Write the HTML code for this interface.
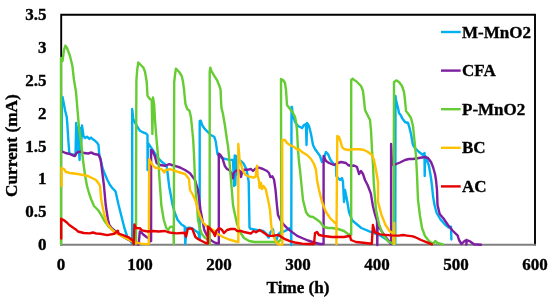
<!DOCTYPE html>
<html><head><meta charset="utf-8"><style>
html,body{margin:0;padding:0;background:#fff;width:550px;height:300px;overflow:hidden}
svg{display:block}
text{font-family:"Liberation Serif","Times New Roman",serif;font-weight:bold;fill:#000;stroke:#000;stroke-width:0.35px}
</style></head><body>
<svg width="550" height="300" viewBox="0 0 550 300">
<rect width="550" height="300" fill="#fff"/>
<g fill="none" stroke-linejoin="round" stroke-linecap="round" stroke-width="2.4">
<path d="M61.2,245.6 V14.8 H535 V245.6" stroke="#000" stroke-width="1.9" stroke-linecap="butt" stroke-linejoin="miter"/>
<line x1="61" y1="244.8" x2="535" y2="244.8" stroke="#808080" stroke-width="1.9"/>
<polyline points="61.8,150 61.8,97 62.5,97 63.5,102 65,110 66.7,116.7 67.5,126.7 68.3,140 69.2,151.7 70,154 75.5,155 76.2,123 77,150 78,127 79,152 79.6,160 80,128 81,150 82,125.5 83.5,136 85,138 87,136.7 89.5,139 91,137.5 92.5,139 94.7,140.5 97,142.7 98.5,145 99.2,154 100.7,160 102.5,168 104,172 107.4,180 110,185 112.3,188 115.5,191.3 118.6,205 121.5,216.5 124.4,228 127.2,236.5 130.8,240.8 132.2,244 132.2,109 133.2,119 136.2,125 140,130.8 143.3,132.5 145.8,133.3 147.5,135 147.6,170 148.3,143.3 151.7,148.3 155,153.3 158.3,158.3 161.7,161.7 165,164.2 166.7,166.7 167.7,174 169.2,186.7 170.8,195 172.4,204 174.5,212 177.7,220 181.5,224.5 184.7,226.5 185.3,244 186.5,228 189.7,227.7 192.3,228.4 194.2,230 196.7,231.5 198.6,233.4 199.7,240 199.7,121 200.8,120.8 202.5,125.8 205,129.2 208.3,132.5 210.8,135 214.2,136.7 215.8,141.7 216.7,148.3 217.5,154.2 219.2,156.7 223.3,158.5 228.3,159.7 233,160 234,186 234.7,155.5 235.3,185 236,156 236.5,175 237.7,160 241,161 243.7,163.7 246.3,169 247.7,175.7 248.7,182 249.5,227.4 250.5,228.7 257.2,230 263.3,231 265.3,232.6 268.6,237.5 270.8,231.5 273,229.3 274,237 276.3,240.3 278.5,234.2 280.7,232 284,231.5 286.2,230.4 289.5,228.2 291,229.3 291.3,245 291.5,107 292,107 292.5,114 295,122 298,126 302,128 304,125 306,124 306.5,145 307,123 309,126 311,134 313,145 315,149 320,156 322,162 324,158 326,152 328,154 330,159 332,162 334,164 336,165 336.3,176 338,178 340,180 342,178 343,182 344,202 345,190 347,200 349,212 352,220 355,222.8 361.3,228 371.8,232.3 380.2,235.4 386.5,239.6 391.8,243.8 395.3,244 395.5,96 396,100 398,108 399,113 401,115.5 402,118 405,122 408,123 409,126 411,134 412,140 413,145 415,148 419,152 423,155 424.5,153 424.7,176 425.2,156 427,160 429,166 430,172 431,178 432,186 433,196 434.5,205 436.7,213 440.5,219.5 445,224.5 448.7,227.5 451,226.7 451.4,239.5" stroke="#00B0F0"/>
<polyline points="61.8,152 62.5,151.7 65.5,153 70,154 73,155.5 75,156 76,153.7 78,152 80.5,151.7 84,153 88,153.5 91.5,152.5 93,153.5 95.5,154.3 98.5,154.7 100,158 100.7,160 102,170 104,186 105.7,205 107.9,219.3 109.3,225 111.5,228 115.8,231.5 121.5,235.8 128.7,240 133.7,242.3 136,244 138.7,244.5 139.8,231.5 140.9,232 143,234.2 146.4,237 149,238.6 150.2,241.4 151.1,241 151.1,150 152.5,150.8 155,156.7 156.7,163.3 160,165 165,165.8 169.2,164.2 171.7,165 175,165.8 180,167.5 185,170 190,173.3 195,180 198,190 200.5,210 202.4,220 204.3,230 206.8,235.3 209.4,238.5 212,241 215.7,243 218.8,243.5 218.8,153.7 220.3,155 222.3,157.7 223.7,162.3 225,166.3 227,169 229.7,170.3 231,173 233,178.3 233.7,173 235.7,171 238.3,169.7 240.3,171.7 241,177 242.3,171.7 244.3,169.7 248.3,169.7 251,169 253,171 255,169 259,167.7 263,169 267,171 269,173 270.3,177 272.3,176.3 274,179.5 275.5,189.6 277,206 278,215 280.7,220.5 284,224.9 288.4,229.3 292.8,232.6 297.2,235.9 302,238 308,240.5 314,242.5 320,244 323.6,244 323.6,156 326,161 329,163 334,165 336,164 338,163 341,162 346,163 348,165 351,166 354,165.5 357,167 359,174 361,171 363,174 365,180 367.6,185 370.8,193.4 372.9,206 375,214.4 377,220.7 377.3,245 377.6,222 380.2,229 384.4,235.4 388.6,240.7 390.7,243.8 391.1,244 391.1,144 392,165 395,164.5 400,162.5 405,160 405,160 409,159 413,159 419,158 425,157 428,158 431,162 433,167 435,174 436,180 437,190 437.5,205 439.7,214 443.5,218.5 448,225 452.5,230.5 457.7,235.7 459,240 461.5,244 464.5,241 466.4,240 466.4,244.5 466.7,240 470.5,241.7 474,244.3 481,244.7" stroke="#7D1FA0"/>
<polyline points="61,244 61,58 62.5,61 64,50 65.4,45.6 67,48 70,56 72.4,66 74,80 76,92 77.5,110 79,128 81,142 83,160 85,175 87,186 89,193 91,199 94,206 98,210 100,212.9 104.3,220.8 108.6,226.5 114.3,231.5 120,235 125.8,238 131.5,240.8 134,243 136,244 136.2,130 136.4,80 137.2,70 138.3,62.5 140.8,65 143.3,67.5 145,71.7 146.7,81.7 147.5,95.8 150,99.2 151.7,100 152.4,134 153,97.5 154.2,105 155,120 156.7,141.7 158.3,158.3 159.2,175 160,186 161.3,205 163.8,220 166.3,228 168.2,230 170,227 173.3,226.5 173.8,244 174.2,82 175,75 175.9,68.7 179.2,72 181.9,76.4 183,81.8 184.1,90 185,100 185.5,104 187.2,109 189.5,110.7 191,117.5 192.5,132.5 193.2,140 194,155 195,180 196,195 197.3,210 198,220 200,229 201.8,234 205,237.8 208,239.7 209.7,244 209.7,72 210.3,67.6 211.4,71 214.6,76.4 217.3,80.7 219.5,86.2 220.6,90 221,100 221.5,108 223,114 225,126 227,140 228,146 229,156 231,180 233,205 234,210 237,224 240,232 244,238 249,241 254.8,242 266.4,242 273,242 277.4,242.5 279.6,240.8 281.2,239.2 281,79 283,80 285,83 286,90 287,105 290,109 293,113 295,117 296,122 297,130 298,150 299,162 300,170 301,180 303,200 304,204 306,212 308,215 310,216.5 313,217 316,219 320,222 324,227 328,228 332,228 338,229 344,231 348,234 351.2,235 351.2,80 352.7,78.7 354,80 356,81 359,84 361,86 363,91 364,100 365,110 367,114 368,116 370,120 371,130 372,150 373,165 373.9,185 376,210 379.2,225 383.4,235.4 388.6,241.7 393.6,244 394,82 396.3,80.4 399,82 402,86 404,92 405,100 406,111 408,113.5 411,118 413,126 414,136 415,146 416,156 417,175 418,200 419,208 420,216 422,228 425,236 429,241 433,244 435.2,241 437.5,243 440.5,243.7 443,244.3" stroke="#66CC33"/>
<polyline points="61.6,186 61.6,168 64,169 66,172 70,173 78,174 88,176 96,180 99,184 100,186 101,198 102.2,205 104.3,215 107.2,223.6 111.5,229.4 115.8,233 121.5,235.8 127.2,238.7 131.5,240.8 135.4,242.5 140.9,243.6 146.4,244.1 148.8,244 149.2,159.2 150.8,162 152.5,165 155,167.5 158.3,168.3 161.7,169.2 164.2,172.5 165.8,170 170,169.2 175,170.8 180,172.5 185,174 189,179 190,190 193,195 196,202 198,210 200.5,217 203,222.5 205.6,225.2 208,227 213,230 217,233.4 220,235.3 223,237 229,239.5 236,241.5 238.3,242 238.3,144 238.8,150 239.7,161 241,163.7 242.3,169 243.7,172.3 245.7,175 248.3,176.3 251,177 253.7,177.7 255.7,176.3 257,165.7 257.7,175.7 259,181 259.6,188 261,183 262,189 263.5,186 265.7,189 268,199.4 270,210 271.3,226 273,233.7 275.2,240.3 277.4,243.6 279.6,244.7 282.3,244.5 282.2,140 285,140 287,143 290,145 294,147 298,150 299,149 302,152 307,155 311,159 314,164 316,170 317,180 319,190 322,202 326,212 330,218 334,222 336.4,224 336.4,244 337.3,136 339,137 340,140 341,143 342,147 344,149 348,150 354,149.3 360,149.3 364,150 368,152 372,155 374,160 376,170 378,182 378,201.8 381.3,214.4 385.5,225 389.7,231.2 392.8,233.3 394,244 394.2,223 394.5,244" stroke="#FFC000"/>
<polyline points="61.2,238.5 61.2,218.8 63.6,220 66.5,222.2 69.3,225 73.6,228 75.8,229.4 78,231.5 83.7,233 89.4,233.4 93,232.5 96.5,233.6 100,233.8 107.2,235.1 114.3,233.7 117.9,230.8 118.6,233.7 123,235.1 128.7,237.3 133,240.8 133.7,244.4 134.4,224.4 135.8,228 140,228.3 142,230.4 147.5,231.5 153,231 158.5,231.5 165,231 167.6,232 171.4,232.8 176.5,233.4 181.5,233 184.7,232.8 186,236.6 187.8,229 190.4,228.4 192.3,229 193.5,232 195.4,237 198,239 201.8,241 205.6,243 207.8,243.5 208,226.5 210,228.4 212,231 213.8,233.4 215,236 216.3,231 218.2,229 220,228.4 222,230 224,233 227,230 231,229 235,229 237,231 241,231 245,232.3 251,233.5 253.5,231 256,232.3 259.6,230 262,231.5 265.3,233.7 268.6,235.9 273,235.9 278,234.8 280.7,236.4 285,239.2 290.6,241.4 295,242.5 302,243.6 308,244 314,244 315,233 317,232 319,235 324,236 332,237 340,237 344,237 349,236 350,236 351,240 356,242 363.4,242.8 371.8,243.8 372.9,225 375,232.3 380.2,234.4 390.7,235.4 399,235.6 403,235 407,235.6 413,236.4 417,238 421,240 427,242.4 432,244.4" stroke="#E60000"/>
</g>
<g font-size="17"><text x="46.5" y="244.5" text-anchor="end" dominant-baseline="central">0</text><text x="46.5" y="211.7" text-anchor="end" dominant-baseline="central">0.5</text><text x="46.5" y="178.9" text-anchor="end" dominant-baseline="central">1</text><text x="46.5" y="146.1" text-anchor="end" dominant-baseline="central">1.5</text><text x="46.5" y="113.3" text-anchor="end" dominant-baseline="central">2</text><text x="46.5" y="80.5" text-anchor="end" dominant-baseline="central">2.5</text><text x="46.5" y="47.7" text-anchor="end" dominant-baseline="central">3</text><text x="46.5" y="14.9" text-anchor="end" dominant-baseline="central">3.5</text></g>
<g font-size="17"><text x="61" y="270" text-anchor="middle">0</text><text x="140" y="270" text-anchor="middle">100</text><text x="219" y="270" text-anchor="middle">200</text><text x="298" y="270" text-anchor="middle">300</text><text x="377" y="270" text-anchor="middle">400</text><text x="456" y="270" text-anchor="middle">500</text><text x="535" y="270" text-anchor="middle">600</text></g>
<text x="298" y="292.7" font-size="17.1" text-anchor="middle">Time (h)</text>
<text transform="translate(17.3,145.6) rotate(-90)" font-size="17.3" text-anchor="middle">Current (mA)</text>
<g font-size="17"><line x1="441" y1="32.0" x2="460.7" y2="32.0" stroke="#00B0F0" stroke-width="2.4"/><text x="462" y="37.5">M-MnO2</text><line x1="441" y1="70.6" x2="460.7" y2="70.6" stroke="#7D1FA0" stroke-width="2.4"/><text x="462" y="76.1">CFA</text><line x1="441" y1="109.2" x2="460.7" y2="109.2" stroke="#66CC33" stroke-width="2.4"/><text x="462" y="114.7">P-MnO2</text><line x1="441" y1="147.8" x2="460.7" y2="147.8" stroke="#FFC000" stroke-width="2.4"/><text x="462" y="153.3">BC</text><line x1="441" y1="186.4" x2="460.7" y2="186.4" stroke="#E60000" stroke-width="2.4"/><text x="462" y="191.9">AC</text></g>
</svg>
</body></html>
